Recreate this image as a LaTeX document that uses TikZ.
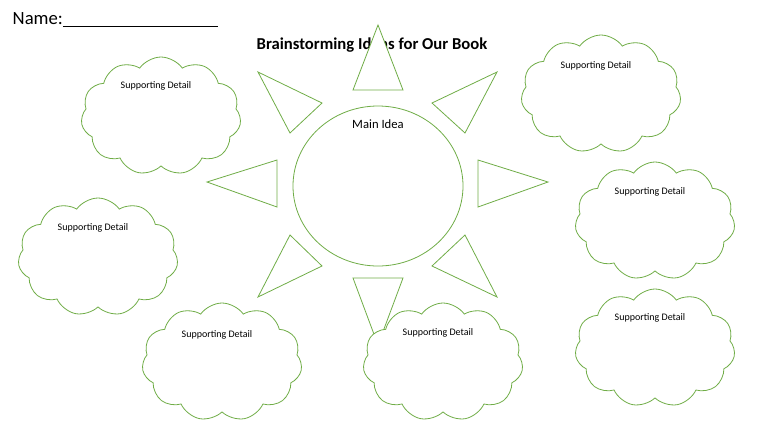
\documentclass[tikz,border=0pt]{standalone}
\usepackage{fontspec}
\setmainfont{Carlito}
\usetikzlibrary{shapes.symbols}
\definecolor{gr}{HTML}{70AD47}
\begin{document}
\begin{tikzpicture}[x=0.75pt,y=-0.75pt,
  ray/.style={draw=gr,line width=0.6pt,fill=white,line join=miter},
  cloudbox/.style={cloud,cloud puffs=11,cloud puff arc=110,draw=gr,line width=0.6pt,fill=white,minimum width=160*0.75pt,minimum height=118*0.75pt,inner sep=0pt,aspect=1.4},
  lab/.style={font=\fontsize{7.5}{9}\selectfont,anchor=center}]
\useasboundingbox (0,0) rectangle (768,433);
\node[anchor=west,font=\fontsize{14}{16}\selectfont] (name) at (8,20) {Name:\underline{\hspace{116pt}}};
\node[font=\bfseries\fontsize{12.5}{15}\selectfont] (title) at (372,45) {Brainstorming Ideas for Our Book};
% rays
\draw[ray] (378,25) -- (403,90) -- (353,90) -- cycle;
\draw[ray] (258,72) -- (322,103) -- (290,133) -- cycle;
\draw[ray] (497,72) -- (432,103) -- (465,133) -- cycle;
\draw[ray] (207,182) -- (277,160) -- (277,207) -- cycle;
\draw[ray] (548,182) -- (478,160) -- (478,207) -- cycle;
\draw[ray] (290,235) -- (322,266) -- (258,297) -- cycle;
\draw[ray] (465,235) -- (432,266) -- (497,297) -- cycle;
\draw[ray] (353,278) -- (403,278) -- (378,345) -- cycle;
% center
\draw[draw=gr,line width=0.6pt,fill=white] (378,186) ellipse [x radius=85*0.75pt, y radius=80*0.75pt];
\node[font=\fontsize{9.5}{11}\selectfont] (main) at (378,124) {Main Idea};
% clouds
\foreach \n/\cx/\cy/\ty in {c1/161/116/86, c2/601/94/66, c3/98/257/228, c4/655/221/192, c5/222/362/335, c6/443/362/333, c7/655/348/318}{
  \node[cloudbox] (\n) at (\cx,\cy) {};
  \node[lab] (\n t) at (\cx-5,\ty) {Supporting Detail};
}
\end{tikzpicture}
\end{document}
